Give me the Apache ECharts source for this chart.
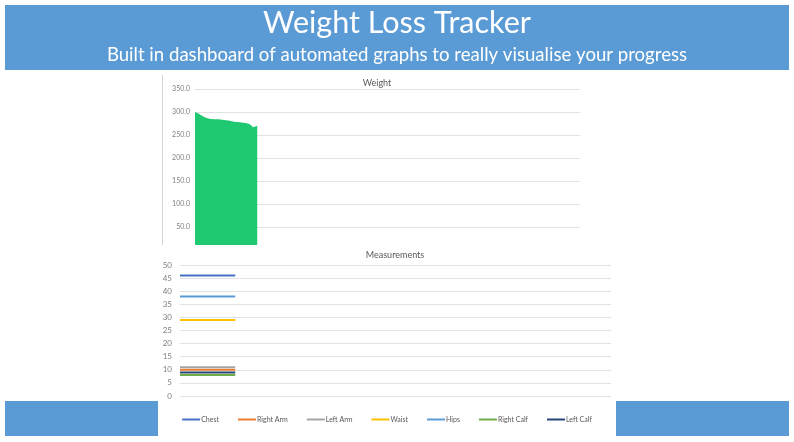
<!DOCTYPE html>
<html>
<head>
<meta charset="utf-8">
<script src="https://cdn.jsdelivr.net/npm/echarts@6/dist/echarts.min.js"></script>
<style>
html,body{margin:0;padding:0;background:#fff;width:794px;height:442px;overflow:hidden;}
#main{position:absolute;left:0;top:0;width:794px;height:442px;}
#meas{position:absolute;left:158px;top:245px;width:458px;height:197px;background:#fff;}
</style>
</head>
<body>
<div id="main"></div>
<div id="meas"></div>
<script>
// ---- data ----
var titleText = 'Weight Loss Tracker';
var subtitleText = 'Built in dashboard of automated graphs to really visualise your progress';
var weightCategoryCount = 100;
var weightValues = [300, 296, 291, 287, 285, 284, 284, 283, 282, 281, 279, 278, 277, 276, 274, 267, 270];
var weightTicks = [0, 50, 100, 150, 200, 250, 300, 350];

var measCategoryCount = 40;
var measNames = ['Chest', 'Right Arm', 'Left Arm', 'Waist', 'Hips', 'Right Calf', 'Left Calf'];
var measColors = ['#4472c4', '#ed7d31', '#a5a5a5', '#ffc000', '#5b9bd5', '#70ad47', '#264478'];
var chest = [46, 46, 46, 46, 46, 46];
var rightArm = [10, 10, 10, 10, 10, 10];
var leftArm = [11, 11, 11, 11, 11, 11];
var waist = [29, 29, 29, 29, 29, 29];
var hips = [38, 38, 38, 38, 38, 38];
var rightCalf = [8, 8, 8, 8, 8, 8];
var leftCalf = [9, 9, 9, 9, 9, 9];
var measTicks = [0, 5, 10, 15, 20, 25, 30, 35, 40, 45, 50];

var weightCats = [];
for (var i = 1; i <= weightCategoryCount; i++) weightCats.push(String(i));
var measCats = [];
for (var j = 1; j <= measCategoryCount; j++) measCats.push(String(j));

var BLUE = '#5b9bd5';
var FONT = 'Lato, "Open Sans", sans-serif';

var main = echarts.init(document.getElementById('main'), null, {renderer: 'canvas'});
main.setOption({
  animation: false,
  title: {
    text: 'Weight', left: 372, top: 74, textAlign: 'center',
    textStyle: {fontSize: 9, fontWeight: 'normal', color: '#595959', fontFamily: FONT}
  },
  graphic: [
    {type: 'rect', shape: {x: 5, y: 5, width: 784, height: 65}, style: {fill: BLUE}, z: -1},
    {type: 'rect', shape: {x: 5, y: 401, width: 153, height: 35}, style: {fill: BLUE}, z: -1},
    {type: 'rect', shape: {x: 616, y: 401, width: 173, height: 35}, style: {fill: BLUE}, z: -1},
    {type: 'text', x: 397, y: 23, style: {text: titleText, fill: '#fff', font: '30.5px ' + FONT, textAlign: 'center', textVerticalAlign: 'middle'}},
    {type: 'text', x: 397, y: 55, style: {text: subtitleText, fill: '#fff', font: '18.6px ' + FONT, textAlign: 'center', textVerticalAlign: 'middle'}},
    {type: 'line', shape: {x1: 162.5, y1: 75, x2: 162.5, y2: 245}, style: {stroke: '#d0d8e0', lineWidth: 1}}
  ],
  grid: {left: 195, right: 214, top: 89, height: 161, containLabel: false},
  xAxis: {
    type: 'category', data: weightCats, boundaryGap: false,
    axisLine: {show: false}, axisTick: {show: false}, axisLabel: {show: false}, splitLine: {show: false}
  },
  yAxis: {
    type: 'value', min: weightTicks[0], max: weightTicks[weightTicks.length - 1], interval: 50,
    axisLine: {show: false}, axisTick: {show: false},
    axisLabel: {fontSize: 7, color: '#7f7f7f', margin: 5, fontFamily: FONT,
      formatter: function (v) { return v.toFixed(1); }},
    splitLine: {lineStyle: {color: '#e2e2e2', width: 1}}
  },
  series: [{
    type: 'line', data: weightValues, showSymbol: false, symbol: 'none',
    lineStyle: {width: 0}, areaStyle: {color: '#1ec971', opacity: 1}, itemStyle: {color: '#1ec971'}
  }]
});

var measData = [chest, rightArm, leftArm, waist, hips, rightCalf, leftCalf];
var meas = echarts.init(document.getElementById('meas'), null, {renderer: 'canvas'});
meas.setOption({
  animation: false,
  color: measColors,
  title: {
    text: 'Measurements', left: 232, top: 1, textAlign: 'center',
    textStyle: {fontSize: 9, fontWeight: 'normal', color: '#595959', fontFamily: FONT}
  },
  legend: {
    data: measNames, left: 'center', top: 166, icon: 'rect', itemWidth: 18, itemHeight: 2,
    itemGap: 19, textStyle: {fontSize: 7, color: '#595959', fontFamily: FONT, padding: [0, 0, 0, -4]}
  },
  grid: {left: 22, right: 5, top: 20, height: 131, containLabel: false},
  xAxis: {
    type: 'category', data: measCats, boundaryGap: false,
    axisLine: {show: false}, axisTick: {show: false}, axisLabel: {show: false}, splitLine: {show: false}
  },
  yAxis: {
    type: 'value', min: measTicks[0], max: measTicks[measTicks.length - 1], interval: 5,
    axisLine: {show: false}, axisTick: {show: false},
    axisLabel: {fontSize: 8, color: '#7f7f7f', margin: 8, fontFamily: FONT},
    splitLine: {lineStyle: {color: '#e2e2e2', width: 1}}
  },
  series: measNames.map(function (n, k) {
    return {name: n, type: 'line', data: measData[k], showSymbol: false, symbol: 'none',
      lineStyle: {width: 2, color: measColors[k]}, itemStyle: {color: measColors[k]}};
  })
});
</script>
</body>
</html>
